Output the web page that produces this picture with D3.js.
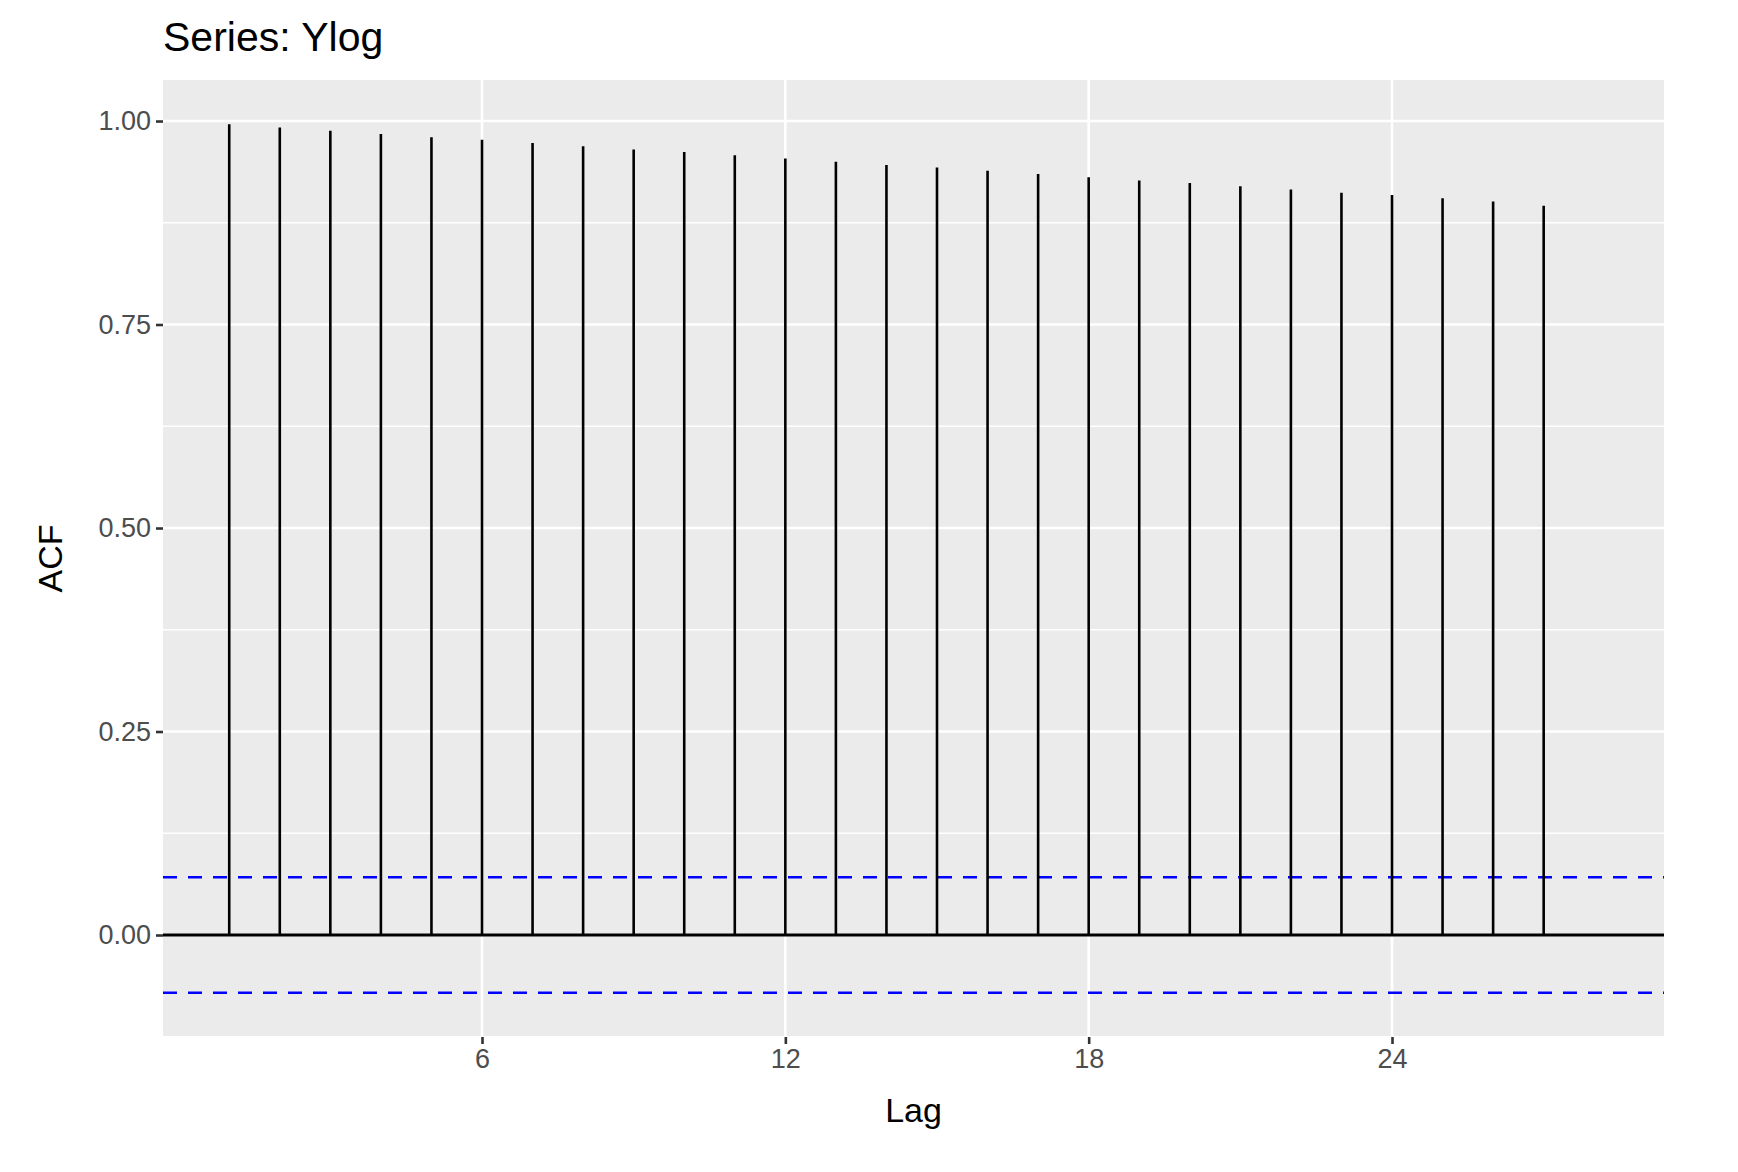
<!DOCTYPE html>
<html><head><meta charset="utf-8">
<script src="https://cdn.jsdelivr.net/npm/d3@7"></script>
<style>body{margin:0;background:#fff}svg{display:block}</style>
</head><body><svg id="c" width="1738" height="1172"></svg>
<script>
const lags = d3.range(1, 28);
const acf = [0.996,0.992,0.988,0.984,0.980,0.977,0.973,0.969,0.965,0.962,0.958,0.954,0.950,0.946,0.943,0.939,0.935,0.931,0.927,0.924,0.920,0.916,0.912,0.909,0.905,0.901,0.896];
const ci = 0.071;
const xTicks = [6, 12, 18, 24];
const yTicks = [0, 0.25, 0.5, 0.75, 1.0];
const yMinor = [-0.125, 0.125, 0.375, 0.625, 0.875];

const svg = d3.select("#c");
const L = 163, R = 1664, T = 80, B = 1037;
const x = d3.scaleLinear().domain([-0.31, 29.38]).range([L, R]);
const y = d3.scaleLinear().domain([-0.1253, 1.0504]).range([B, T]);
const font = "'Liberation Sans', Arial, sans-serif";

svg.append("rect").attr("x", L).attr("y", T).attr("width", R - L).attr("height", B - T).attr("fill", "#ebebeb");
svg.selectAll(".ymin").data(yMinor).join("line").attr("x1", L).attr("x2", R)
  .attr("y1", d => y(d)).attr("y2", d => y(d)).attr("stroke", "#fff").attr("stroke-width", 1.3);
svg.selectAll(".ymaj").data(yTicks).join("line").attr("x1", L).attr("x2", R)
  .attr("y1", d => y(d)).attr("y2", d => y(d)).attr("stroke", "#fff").attr("stroke-width", 2.6);
svg.selectAll(".xmaj").data(xTicks).join("line").attr("y1", T).attr("y2", B)
  .attr("x1", d => x(d)).attr("x2", d => x(d)).attr("stroke", "#fff").attr("stroke-width", 2.6);

[ci, -ci].forEach(v => svg.append("line").attr("x1", L).attr("x2", R).attr("y1", y(v)).attr("y2", y(v))
  .attr("stroke", "#0000ff").attr("stroke-width", 2.6).attr("stroke-dasharray", "14,11"));

svg.append("line").attr("x1", L).attr("x2", R).attr("y1", y(0)).attr("y2", y(0)).attr("stroke", "#000").attr("stroke-width", 3);

svg.selectAll(".sp").data(lags).join("line")
  .attr("x1", d => x(d)).attr("x2", d => x(d))
  .attr("y1", y(0)).attr("y2", (d, i) => y(acf[i]))
  .attr("stroke", "#000").attr("stroke-width", 2.6);

const ya = svg.append("g").attr("transform", `translate(${L},0)`)
  .call(d3.axisLeft(y).tickValues(yTicks).tickFormat(d3.format(".2f")).tickSize(7).tickPadding(5));
const xa = svg.append("g").attr("transform", `translate(0,${B})`)
  .call(d3.axisBottom(x).tickValues(xTicks).tickSize(7).tickPadding(5));
[ya, xa].forEach(a => {
  a.select(".domain").remove();
  a.selectAll(".tick line").attr("stroke", "#333").attr("stroke-width", 2.6);
  a.selectAll("text").attr("fill", "#4d4d4d").attr("font-family", font).attr("font-size", 27);
});

svg.append("text").attr("x", (L + R) / 2).attr("y", 1122).attr("text-anchor", "middle")
  .attr("font-family", font).attr("font-size", 34).text("Lag");
svg.append("text").attr("transform", `translate(62,${(T + B) / 2}) rotate(-90)`).attr("text-anchor", "middle")
  .attr("font-family", font).attr("font-size", 34).text("ACF");
svg.append("text").attr("x", L).attr("y", 51).attr("font-family", font).attr("font-size", 41).text("Series: Ylog");
</script></body></html>
